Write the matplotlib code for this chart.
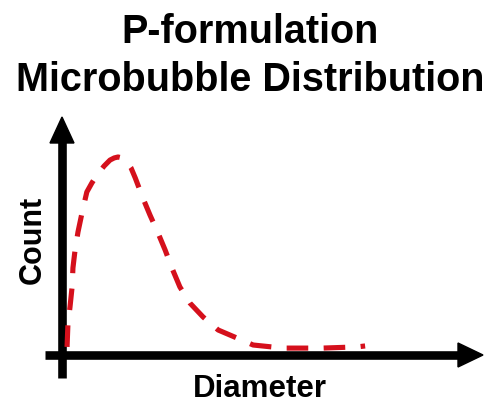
import matplotlib
matplotlib.use("Agg")
import matplotlib.pyplot as plt
from matplotlib.patches import Polygon
from matplotlib.lines import Line2D

# Data (arbitrary units: diameter 0..10 across the axis, count 0..100 up the axis)
diameter = [0.12, 0.14, 0.19, 0.24, 0.26, 0.31, 0.38, 0.48, 0.59, 0.71, 0.83,
            1.00, 1.14, 1.24, 1.33, 1.43, 1.54, 1.64, 1.74, 1.92, 2.09, 2.28,
            2.45, 2.61, 2.80, 3.04, 3.35, 3.71, 4.16, 4.54, 5.25, 6.18, 7.01, 7.20]
count = [3.4, 12.6, 20.2, 28.6, 36.6, 44.1, 51.7, 60.1, 68.5, 72.3, 75.6,
         79.4, 81.9, 82.8, 83.2, 82.8, 81.1, 78.6, 74.4, 66.0, 58.8, 51.3,
         44.1, 36.6, 28.6, 21.8, 16.0, 10.5, 7.1, 4.2, 2.9, 2.9, 3.4, 3.8]

title_lines = ["P-formulation", "Microbubble Distribution"]
x_label = "Diameter"
y_label = "Count"

W, H = 500, 418
fig = plt.figure(figsize=(W / 100, H / 100), dpi=100)
ox, oy, tx, ty = 62, 355, 483, 117
ax = fig.add_axes([ox / W, (H - oy) / H, (tx - ox) / W, (oy - ty) / H])
ax.set_xlim(0, 10)
ax.set_ylim(0, 100)
ax.axis("off")

red = "#d5101c"
ax.plot(diameter, count, color=red, lw=3.7, dashes=(4.2, 3.0),
        solid_capstyle="butt", dash_capstyle="butt", dash_joinstyle="round",
        clip_on=False, zorder=3)

# Axes with arrows (axes-fraction coordinates)
aw, ah = tx - ox, oy - ty
lw_axis = 6.2
tr = ax.transAxes
ax.add_line(Line2D([(45 - ox) / aw, (460 - ox) / aw], [0, 0], color="black",
                   lw=lw_axis, solid_capstyle="butt", transform=tr, clip_on=False))
ax.add_line(Line2D([0, 0], [(oy - 378) / ah, (oy - 140) / ah], color="black",
                   lw=lw_axis, solid_capstyle="butt", transform=tr, clip_on=False))
ax.add_patch(Polygon([[1.0, 0], [(458 - ox) / aw, 12 / ah], [(458 - ox) / aw, -12 / ah]],
                     closed=True, color="black", transform=tr, clip_on=False))
ax.add_patch(Polygon([[0, 1.0], [12 / aw, (oy - 143) / ah], [-12 / aw, (oy - 143) / ah]],
                     closed=True, color="black", transform=tr, clip_on=False))

font = "Liberation Sans"
fig.text(0.5, 1 - 43 / H, title_lines[0], ha="center", va="baseline",
         fontsize=28.5, fontweight="bold", family=font)
fig.text(0.5, 1 - 91 / H, title_lines[1], ha="center", va="baseline",
         fontsize=28.5, fontweight="bold", family=font)
fig.text(260 / W, 1 - 397 / H, x_label, ha="center", va="baseline",
         fontsize=22.5, fontweight="bold", family=font)
fig.text(33 / W, 1 - 240 / H, y_label, ha="center", va="center", rotation=90,
         fontsize=22, fontweight="bold", family=font)

fig.savefig("out.png", dpi=100)
